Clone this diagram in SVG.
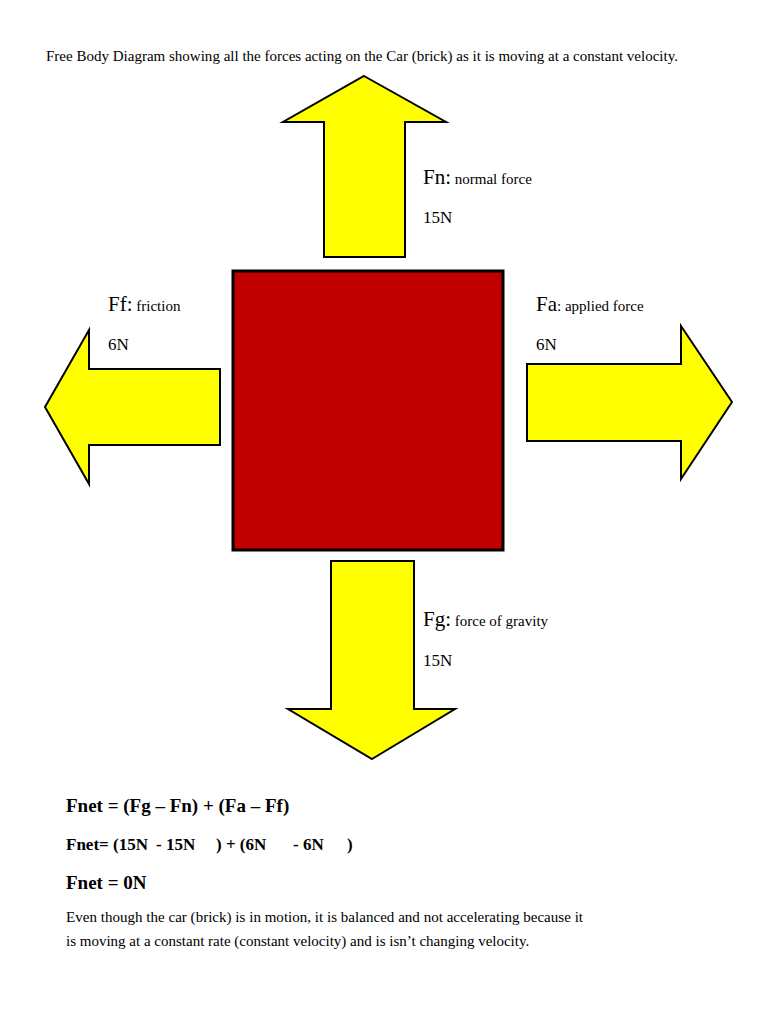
<svg xmlns="http://www.w3.org/2000/svg" width="768" height="1024" viewBox="0 0 768 1024">
<style>
.arrow{fill:#FFFF00;stroke:#000;stroke-width:2;stroke-linejoin:miter}
.t{font-family:"Liberation Serif",serif;fill:#000}
.big{font-size:21px}
.sm{font-size:15px}
.val{font-size:17px}
.eq{font-size:19px;font-weight:bold}
.eq2{font-size:17px;font-weight:bold}
</style>
<rect width="768" height="1024" fill="#fff"/>
<text class="t sm" x="46" y="61" textLength="632">Free Body Diagram showing all the forces acting on the Car (brick) as it is moving at a constant velocity.</text>
<g id="brick">
<rect x="233" y="271" width="270" height="279" fill="#C00000" stroke="#000" stroke-width="3"/>
</g>
<g id="connectors">
<polygon id="arrow-up" class="arrow" points="364,76 446,122 405,122 405,257 324,257 324,122 283,122"/>
<polygon id="arrow-left" class="arrow" points="45,407 89,330 89,369 220,369 220,445 89,445 89,484"/>
<polygon id="arrow-right" class="arrow" points="732,402 681,326 681,364 527,364 527,441 681,441 681,479"/>
<polygon id="arrow-down" class="arrow" points="372,759 455,709 414,709 414,561 331,561 331,709 288,709"/>
</g>
<g id="label-fn">
<text class="t" x="423" y="184"><tspan class="big">Fn:</tspan><tspan class="sm"> normal force</tspan></text>
<text class="t val" x="423" y="223">15N</text>
</g>
<g id="label-ff">
<text class="t" x="108" y="311"><tspan class="big">Ff:</tspan><tspan class="sm"> friction</tspan></text>
<text class="t val" x="108" y="350">6N</text>
</g>
<g id="label-fa">
<text class="t" x="536" y="311"><tspan class="big">Fa</tspan><tspan class="sm">: applied force</tspan></text>
<text class="t val" x="536" y="350">6N</text>
</g>
<g id="label-fg">
<text class="t" x="423" y="626"><tspan class="big">Fg:</tspan><tspan class="sm"> force of gravity</tspan></text>
<text class="t val" x="423" y="666">15N</text>
</g>
<g id="equations">
<text class="t eq" x="66" y="812">Fnet = (Fg – Fn) + (Fa – Ff)</text>
<text class="t eq2" y="850"><tspan x="66">Fnet= (15N</tspan><tspan x="156">- 15N</tspan><tspan x="216">) + (6N</tspan><tspan x="293">- 6N</tspan><tspan x="347">)</tspan></text>
<text class="t eq" x="66" y="889">Fnet = 0N</text>
<text class="t sm" x="66" y="922" textLength="517">Even though the car (brick) is in motion, it is balanced and not accelerating because it</text>
<text class="t sm" x="66" y="946">is moving at a constant rate (constant velocity) and is isn’t changing velocity.</text>
</g>
</svg>
